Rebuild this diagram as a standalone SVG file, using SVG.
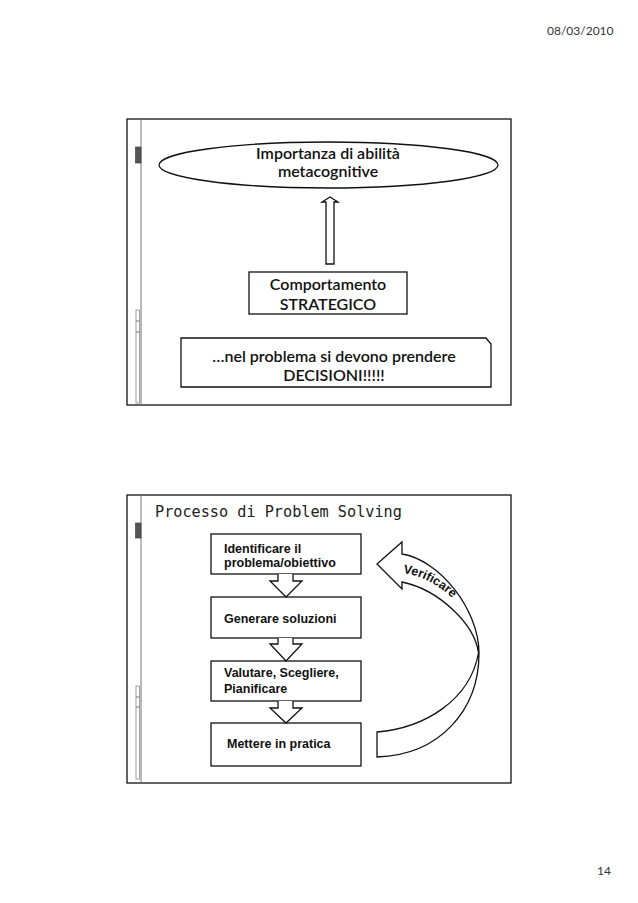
<svg xmlns="http://www.w3.org/2000/svg" width="638" height="903" viewBox="0 0 638 903">
<style>
.frame{fill:#fff;stroke:#111;stroke-width:1.3}
.vline{stroke:#777;stroke-width:1}
.dark{fill:#555;stroke:#333;stroke-width:0.6}
.sb{fill:#fff;stroke:#888;stroke-width:0.8}
.shape{fill:#fff;stroke:#111;stroke-width:1.3}
.cal{font-family:Lato,"Liberation Sans",sans-serif;font-weight:600;font-size:16px;fill:#111;text-anchor:middle}
.ar{font-family:"Liberation Sans",Arial,sans-serif;font-weight:bold;font-size:12.5px;fill:#111}
.hdr{font-family:Lato,"Liberation Sans",sans-serif;font-size:12px;fill:#333}
</style>
<defs>
<path id="vpath" d="M 403,573 C 425,576 448,590 464,611"/>
</defs>
<rect width="638" height="903" fill="#fff"/>
<text class="hdr" x="547" y="35">08/03/2010</text>
<text class="hdr" x="597" y="875">14</text>

<g id="slide1">
<rect class="frame" x="127" y="119" width="384" height="286"/>
<line class="vline" x1="141" y1="119" x2="141" y2="405"/>
<rect class="dark" x="135.5" y="147" width="5.5" height="16"/>
<rect class="sb" x="136" y="310" width="3.5" height="93"/>
<line class="vline" x1="136" y1="321" x2="139.5" y2="321"/>
<line class="vline" x1="136" y1="332" x2="139.5" y2="332"/>
</g>

<g id="node-importanza">
<ellipse class="shape" cx="328.5" cy="165" rx="169.5" ry="23"/>
<text class="cal" x="328" y="159">Importanza di abilità</text>
<text class="cal" x="328" y="177">metacognitive</text>
</g>
<g id="node-comportamento">
<rect class="shape" x="249" y="272" width="158" height="42"/>
<text class="cal" x="328" y="290">Comportamento</text>
<text class="cal" x="328" y="310">STRATEGICO</text>
</g>
<g id="node-decisioni">
<path class="shape" d="M181,338 L486,338 L491,344 L491,387 L181,387 Z"/>
<text class="cal" x="334" y="362">…nel problema si devono prendere</text>
<text class="cal" x="334" y="381">DECISIONI!!!!!</text>
</g>

<g id="slide2">
<rect class="frame" x="127" y="495" width="384" height="288"/>
<line class="vline" x1="141" y1="495" x2="141" y2="783"/>
<rect class="dark" x="135.5" y="523" width="5.5" height="15"/>
<rect class="sb" x="136" y="686" width="3.5" height="93"/>
<line class="vline" x1="136" y1="697" x2="139.5" y2="697"/>
<line class="vline" x1="136" y1="707" x2="139.5" y2="707"/>
<text x="155" y="517" font-family="'DejaVu Sans Mono','Liberation Mono',monospace" font-size="15.2" fill="#222">Processo di Problem Solving</text>
</g>

<g id="node-identificare">
<rect class="shape" x="211" y="534" width="150" height="40"/>
<text class="ar" x="224" y="553">Identificare il</text>
<text class="ar" x="224" y="567">problema/obiettivo</text>
</g>
<g id="node-generare">
<rect class="shape" x="211" y="597" width="150" height="41"/>
<text class="ar" x="224" y="623">Generare soluzioni</text>
</g>
<g id="node-valutare">
<rect class="shape" x="211" y="661" width="150" height="40"/>
<text class="ar" x="224" y="677">Valutare, Scegliere,</text>
<text class="ar" x="224" y="693">Pianificare</text>
</g>
<g id="node-mettere">
<rect class="shape" x="211" y="723" width="150" height="43"/>
<text class="ar" x="227" y="748">Mettere in pratica</text>
</g>

<g id="connectors">
<path class="shape" d="M326,264 L326,202 L322,202 L330,197 L338,202 L334,202 L334,264 Z"/>
<path class="shape" d="M278,574 L278,581 L270,581 L286,597 L302,581 L293,581 L293,574"/>
<path class="shape" d="M278,638 L278,644 L270,644 L286,661 L302,644 L293,644 L293,638"/>
<path class="shape" d="M278,701 L278,708 L270,708 L286,723 L302,708 L293,708 L293,701"/>
<path class="shape" d="M377,757 L377,732 C425,728 470,700 478.5,653 C475,625 440,590 402,582 L402,589 L377,564 L402,542 L402,554 C440,560 479,610 479,653 C479,710 440,755 377,757 Z"/>
<text class="ar" font-size="14"><textPath href="#vpath">Verificare</textPath></text>
</g>
</svg>
